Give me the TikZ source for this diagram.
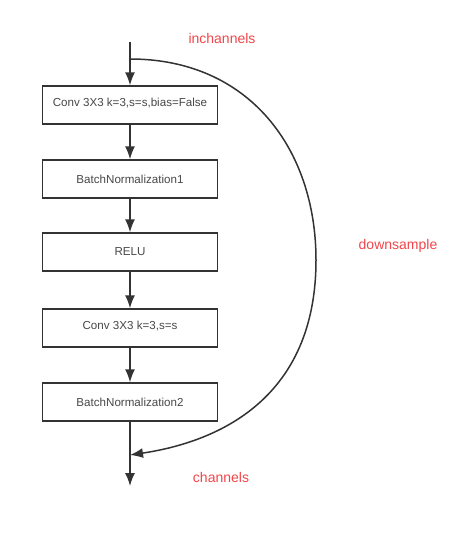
\documentclass[tikz,border=0pt]{standalone}
\usepackage{fontspec}
\setmainfont{Liberation Sans}
\usetikzlibrary{arrows.meta}
\definecolor{ink}{HTML}{333333}
\definecolor{lab}{HTML}{F0454A}
\begin{document}
\begin{tikzpicture}[x=1pt,y=-1pt,
  blk/.style={draw=ink,line width=1.4pt,minimum width=175pt,minimum height=38pt,inner sep=0pt,text=ink!90,font=\fontsize{11.6}{13}\selectfont},
  conn/.style={draw=ink,line width=1.5pt,-{Latex[length=13pt,width=10pt]}},
  redlab/.style={text=lab,font=\fontsize{14}{16}\selectfont}]
\useasboundingbox (0,0) rectangle (474,538);
\node[blk] (b1) at (130,105) {\raisebox{5pt}{Conv 3X3 k=3,s=s,bias=False}};
\node[blk] (b2) at (130,179) {BatchNormalization1};
\node[blk] (b3) at (130,252) {RELU};
\node[blk] (b4) at (130,328) {\raisebox{5pt}{Conv 3X3 k=3,s=s}};
\node[blk] (b5) at (130,402) {BatchNormalization2};
\coordinate (top) at (130,42);
\coordinate (split) at (130,59);
\coordinate (join) at (130,455);
\coordinate (out) at (130,486);
\draw[conn] (top) -- (b1.north);
\draw[conn] (b1) -- (b2);
\draw[conn] (b2) -- (b3);
\draw[conn] (b3) -- (b4);
\draw[conn] (b4) -- (b5);
\draw[conn] (b5.south) -- (out);
\draw[conn] (split) .. controls (250,59) and (316,150) .. (316,260) .. controls (316,390) and (230,440) .. (join);
\node[redlab] (lin) at (222,38) {inchannels};
\node[redlab] (lds) at (398,246) {downsample};
\node[redlab] (lch) at (221,477) {channels};
\end{tikzpicture}
\end{document}
